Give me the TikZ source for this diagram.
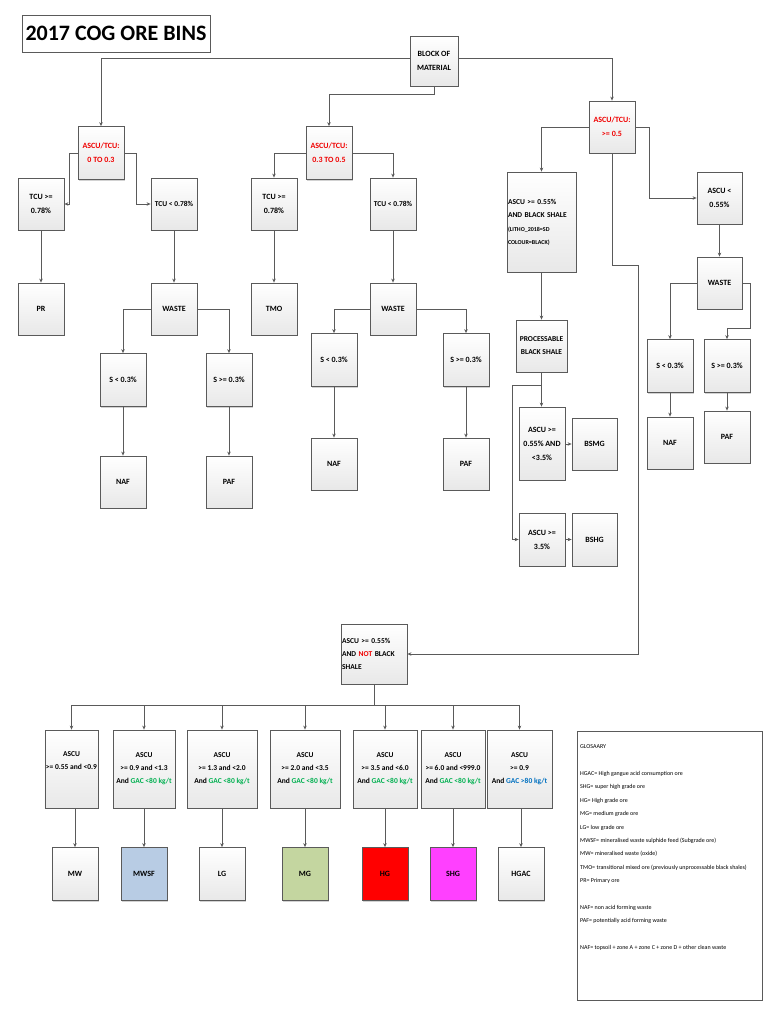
\documentclass[tikz,border=0pt]{standalone}
\usepackage{fontspec}
\setmainfont{Carlito}
\usetikzlibrary{arrows.meta,shadows}
\definecolor{gacg}{RGB}{0,176,80}
\definecolor{gacb}{RGB}{0,112,192}
\definecolor{redt}{RGB}{240,0,0}
\definecolor{mwsf}{RGB}{184,204,228}
\definecolor{mgc}{RGB}{196,214,160}
\definecolor{shg}{RGB}{255,64,255}
\definecolor{edge}{RGB}{90,90,90}
\tikzset{
  box/.style={draw=edge,line width=0.8pt,top color=white,bottom color=gray!18,
    drop shadow={shadow xshift=1.2pt,shadow yshift=-1.2pt,opacity=0.35},
    align=center,inner sep=1pt,font=\fontsize{8}{14}\selectfont\bfseries},
  sm/.style={font=\fontsize{7.5}{13}\selectfont\bfseries},
  arr/.style={draw=edge,line width=0.8pt,-{Stealth[length=4pt,width=3.5pt]}},
  ln/.style={draw=edge,line width=0.8pt}
}
\newcommand{\R}[1]{\textcolor{redt}{#1}}
\begin{document}
\begin{tikzpicture}[x=1pt,y=-1pt]
\useasboundingbox (0,0) rectangle (768,1024);
\fill[white] (0,0) rectangle (768,1024);
\node[draw=edge,line width=0.8pt,minimum width=188,minimum height=37,font=\fontsize{22}{24}\selectfont\bfseries] (title) at (116,33.5) {2017 COG ORE BINS};
\node[box,minimum width=48,minimum height=50] (blk) at (434,61) {BLOCK OF\\MATERIAL};
\node[box,minimum width=46,minimum height=53] (a1) at (101,153) {\R{ASCU/TCU:}\\\R{0 TO 0.3}};
\node[box,minimum width=46,minimum height=53] (a2) at (329,153) {\R{ASCU/TCU:}\\\R{0.3 TO 0.5}};
\node[box,minimum width=46,minimum height=52] (a3) at (612,127) {\R{ASCU/TCU:}\\\R{>= 0.5}};
\node[box,minimum width=46,minimum height=52] (t1) at (41,204) {TCU >=\\0.78\%};
\node[box,sm,minimum width=46,minimum height=52] (t2) at (174,204) {TCU < 0.78\%};
\node[box,minimum width=46,minimum height=52] (t3) at (274,204) {TCU >=\\0.78\%};
\node[box,sm,minimum width=46,minimum height=52] (t4) at (393,204) {TCU < 0.78\%};
\node[box,minimum width=46,minimum height=52] (pr) at (41,309) {PR};
\node[box,minimum width=46,minimum height=52] (w1) at (174,309) {WASTE};
\node[box,minimum width=46,minimum height=52] (tmo) at (274,309) {TMO};
\node[box,minimum width=46,minimum height=52] (w2) at (393,309) {WASTE};
\node[box,minimum width=46,minimum height=53] (s1) at (123,380) {S < 0.3\%};
\node[box,minimum width=46,minimum height=53] (s2) at (229,380) {S >= 0.3\%};
\node[box,minimum width=46,minimum height=52] (n1) at (123,482) {NAF};
\node[box,minimum width=46,minimum height=52] (p1) at (229,482) {PAF};
\node[box,minimum width=46,minimum height=53] (s3) at (334,360) {S < 0.3\%};
\node[box,minimum width=46,minimum height=53] (s4) at (466,360) {S >= 0.3\%};
\node[box,minimum width=46,minimum height=52] (n2) at (334,464) {NAF};
\node[box,minimum width=46,minimum height=52] (p2) at (466,464) {PAF};
\node[box,sm,minimum width=69,minimum height=100,align=left,text width=67] (bs) at (541.5,222) {ASCU >= 0.55\%\\AND BLACK SHALE\\[4pt]{\fontsize{6}{10}\selectfont (LITHO\_2018=SD\\COLOUR=BLACK)}};
\node[box,minimum width=45,minimum height=52] (lt) at (719.5,198) {ASCU <\\0.55\%};
\node[box,minimum width=45,minimum height=52] (w3) at (719.5,283) {WASTE};
\node[box,minimum width=46,minimum height=53] (s5) at (670,366) {S < 0.3\%};
\node[box,minimum width=46,minimum height=53] (s6) at (727,366) {S >= 0.3\%};
\node[box,minimum width=46,minimum height=52] (n3) at (670,443) {NAF};
\node[box,minimum width=46,minimum height=52] (p3) at (727,437) {PAF};
\node[box,sm,minimum width=51,minimum height=52] (pbs) at (541.5,346) {PROCESSABLE\\BLACK SHALE};
\node[box,minimum width=46,minimum height=73] (c1) at (542,443.5) {ASCU >=\\0.55\% AND\\<3.5\%};
\node[box,minimum width=45,minimum height=52] (bsmg) at (594.5,444) {BSMG};
\node[box,minimum width=46,minimum height=53] (c2) at (542,539.5) {ASCU >=\\3.5\%};
\node[box,minimum width=45,minimum height=53] (bshg) at (594.5,539.5) {BSHG};
\node[box,sm,minimum width=66,minimum height=60,align=left,text width=64] (nb) at (374,654) {ASCU >= 0.55\%\\AND \R{NOT} BLACK\\SHALE};
\node[box,sm,minimum width=53,minimum height=78] (b1) at (71.5,769) {ASCU\\>= 0.55 and <0.9\\\strut};
\node[box,sm,minimum width=62,minimum height=78] (b2) at (144,769) {ASCU\\>= 0.9 and <1.3\\And \textcolor{gacg}{GAC <80 kg/t}};
\node[box,sm,minimum width=70,minimum height=78] (b3) at (222,769) {ASCU\\>= 1.3 and <2.0\\And \textcolor{gacg}{GAC <80 kg/t}};
\node[box,sm,minimum width=70,minimum height=78] (b4) at (305,769) {ASCU\\>= 2.0 and <3.5\\And \textcolor{gacg}{GAC <80 kg/t}};
\node[box,sm,minimum width=64,minimum height=78] (b5) at (385,769) {ASCU\\>= 3.5 and <6.0\\And \textcolor{gacg}{GAC <80 kg/t}};
\node[box,sm,minimum width=64,minimum height=78] (b6) at (453,769) {ASCU\\>= 6.0 and <999.0\\And \textcolor{gacg}{GAC <80 kg/t}};
\node[box,sm,minimum width=65,minimum height=78] (b7) at (519.5,769) {ASCU\\>= 0.9\\And \textcolor{gacb}{GAC >80 kg/t}};
\node[box,minimum width=46,minimum height=53] (o1) at (75,874) {MW};
\node[box,minimum width=46,minimum height=53,top color=mwsf,bottom color=mwsf] (o2) at (144,874) {MWSF};
\node[box,minimum width=46,minimum height=53] (o3) at (222,874) {LG};
\node[box,minimum width=46,minimum height=53,top color=mgc,bottom color=mgc] (o4) at (305,874) {MG};
\node[box,minimum width=46,minimum height=53,top color=red,bottom color=red] (o5) at (385,874) {HG};
\node[box,minimum width=46,minimum height=53,top color=shg,bottom color=shg] (o6) at (453,874) {SHG};
\node[box,minimum width=46,minimum height=53] (o7) at (521,874) {HGAC};
\node[draw=edge,line width=0.8pt,minimum width=185,minimum height=269,anchor=north west] (gbox) at (577,731) {};
\node[anchor=north west,align=left,inner sep=0pt,font=\fontsize{6}{13.4}\selectfont] (gl) at (580,744) {GLOSAARY\\[14pt]
HGAC= High gangue acid consumption ore\\
SHG= super high grade ore\\
HG= High grade ore\\
MG= medium grade ore\\
LG= low grade ore\\
MWSF= mineralised waste sulphide feed (Subgrade ore)\\
MW= mineralised waste (oxide)\\
TMO= transitional mixed ore (previously unprocessable black shales)\\
PR= Primary ore\\[13.4pt]
NAF= non acid forming waste\\
PAF= potentially acid forming waste\\[13.4pt]
NAF= topsoil + zone A + zone C + zone D + other clean waste};
% connectors
\draw[arr] ([yshift=3]blk.west) -| (a1.north);
\draw[arr] ([yshift=3]blk.east) -| (a3.north);
\draw[arr] (blk.south) -- ++(0,8) -| (a2.north);
\draw[arr] (a1.west) -- ++(-8,0) |- (t1.east);
\draw[arr] (a1.east) -- ++(12,0) |- (t2.west);
\draw[arr] (t1) -- (pr);
\draw[arr] (t2) -- (w1);
\draw[arr] (w1.west) -| (s1.north);
\draw[arr] (w1.east) -| (s2.north);
\draw[arr] (s1) -- (n1);
\draw[arr] (s2) -- (p1);
\draw[arr] (a2.west) -| (t3.north);
\draw[arr] (a2.east) -| (t4.north);
\draw[arr] (t3) -- (tmo);
\draw[arr] (t4) -- (w2);
\draw[arr] (w2.west) -| (s3.north);
\draw[arr] (w2.east) -| (s4.north);
\draw[arr] (s3) -- (n2);
\draw[arr] (s4) -- (p2);
\draw[arr] (a3.west) -| (bs.north);
\draw[arr] (a3.east) -- ++(14,0) |- (lt.west);
\draw[arr] (lt) -- (w3);
\draw[arr] (w3.west) -| (s5.north);
\draw[arr] (w3.east) -- ++(8,0) -- ++(0,45) -| (s6.north);
\draw[arr] (s5) -- (n3);
\draw[arr] (s6) -- (p3);
\draw[arr] (bs) -- (pbs);
\draw[ln] (pbs.south) -- ++(0,13) coordinate (j);
\draw[arr] (j) -- (j |- c1.north);
\draw[arr] (j) -- ++(-29,0) |- (c2.west);
\draw[arr] (c1.east |- bsmg.west) -- (bsmg.west);
\draw[arr] (c2) -- (bshg);
\draw[arr] (a3.south) -- ++(0,112) -- ++(26,0) |- (nb.east);
\draw[ln] (nb.south) -- ++(0,21) coordinate (bus);
\draw[ln,line width=1.4pt] (bus) -- (bus -| b2.north);
\foreach \b in {b1,b2,b3,b4,b5,b6,b7}{\draw[arr] (bus) -| (\b.north);}
\foreach \b/\o in {b1/o1,b2/o2,b3/o3,b4/o4,b5/o5,b6/o6,b7/o7}{\draw[arr] (\b.south -| \o.north) -- (\o.north);}
\end{tikzpicture}
\end{document}
